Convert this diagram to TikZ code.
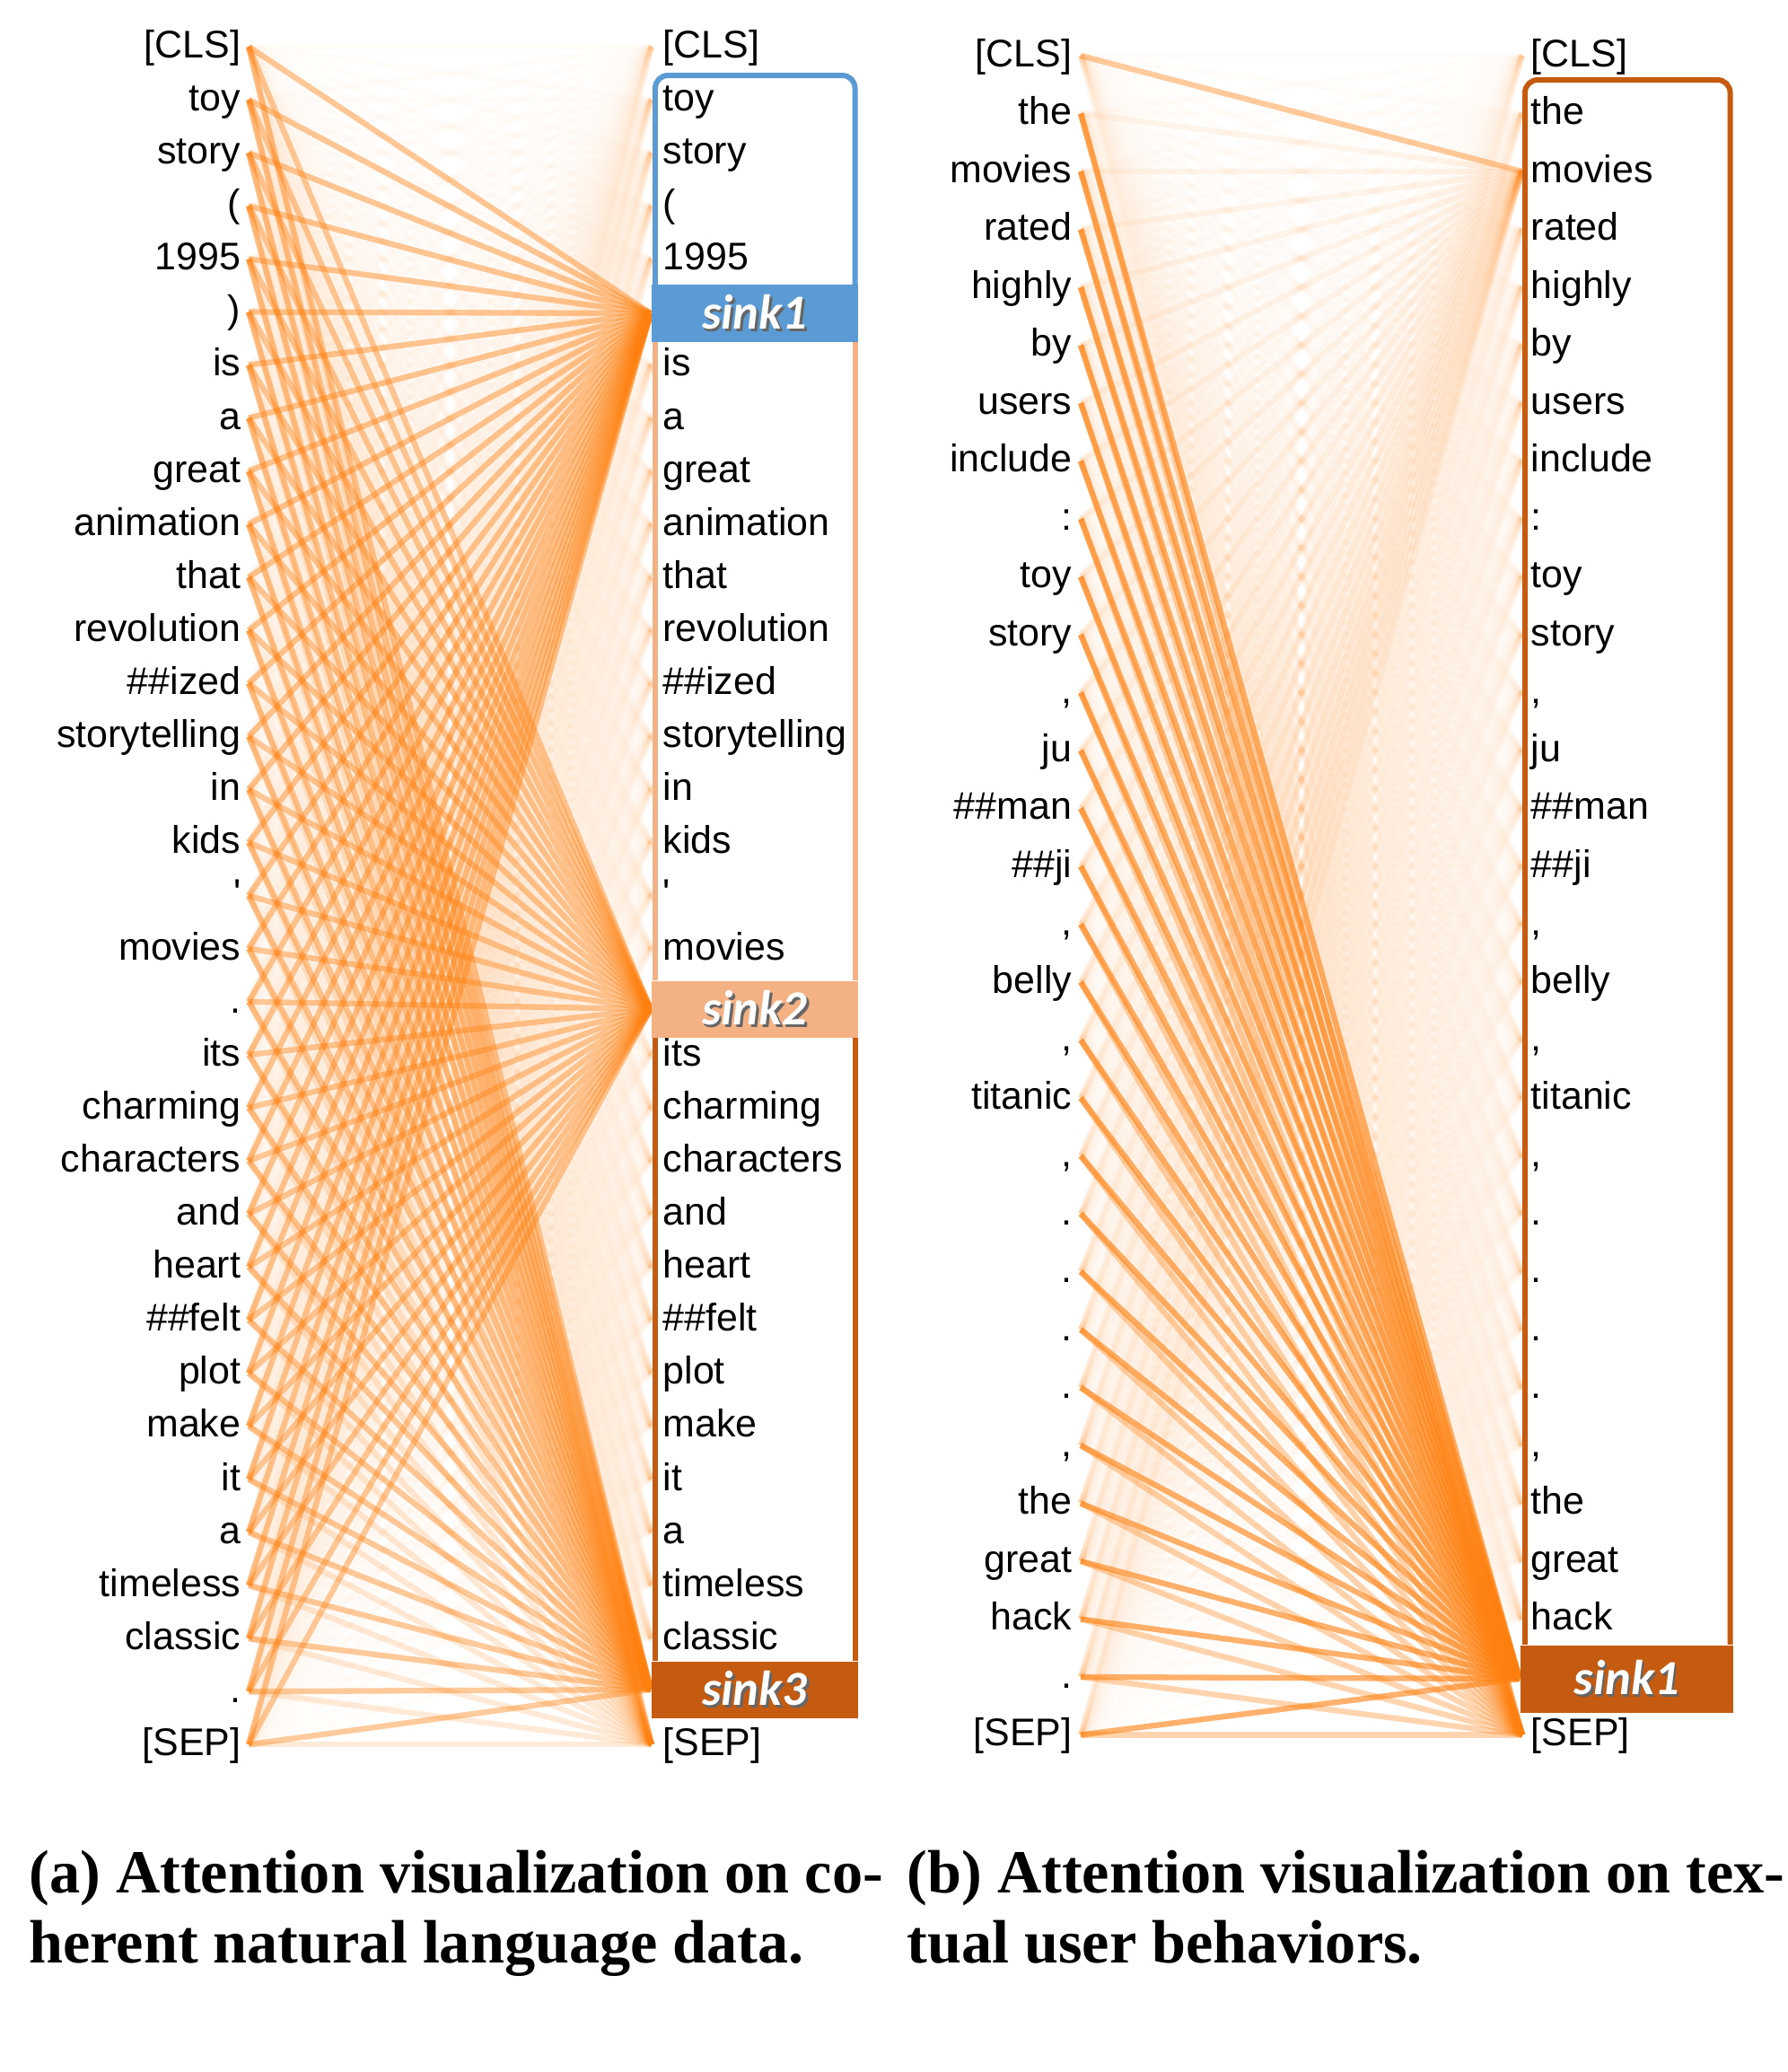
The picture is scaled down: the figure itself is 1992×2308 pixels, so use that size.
\documentclass[tikz,border=0pt]{standalone}
\usepackage{fontspec}
\setmainfont{Liberation Serif}
\newfontfamily\tokfont{Liberation Sans}
\newfontfamily\sinkfont{Carlito}
\usetikzlibrary{positioning}

\definecolor{attnorange}{RGB}{255,127,14}
\definecolor{sinkblue}{RGB}{91,155,213}
\definecolor{sinklight}{RGB}{244,177,131}
\definecolor{sinkdark}{RGB}{197,90,17}

\pgfdeclarelayer{background}
\pgfsetlayers{background,main}

\newcommand{\sinktxt}[1]{\makebox[0pt][l]{\hspace{0.7pt}\raisebox{-0.7pt}{\color{black!60}#1}}{\color{white}#1}}

\tikzset{
    tok/.style={font=\tokfont\fontsize{12.2}{14}\selectfont, text height=0.75em, text depth=0.05em, inner ysep=0pt},
    ltok/.style={tok, anchor=east, inner xsep=2.3pt},
    rtok/.style={tok, anchor=west, inner xsep=3.4pt},
    sinkbox/.style={anchor=west, inner sep=0pt, minimum width=2.3cm, minimum height=0.63cm,
        font=\sinkfont\bfseries\itshape\fontsize{15.5}{18}\selectfont},
    attnline/.style={draw=attnorange, line width=1.8pt},
    faint/.style={attnline, opacity=0.02},
    frame/.style={line width=1.7pt},
    captext/.style={anchor=base west, inner sep=0pt, font=\bfseries\fontsize{19.4}{22}\selectfont},
}

\begin{document}
\begin{tikzpicture}[x=0.01cm, y=-0.01cm]
    \useasboundingbox (0,0) rectangle (1992,2308);

    % (a) coherent sentence
    \foreach \t [count=\i from 0] in {{[CLS]},toy,story,{(},1995,{)},is,a,great,animation,that,revolution,\#\#ized,storytelling,in,kids,\textquotesingle,movies,.,its,charming,characters,and,heart,\#\#felt,plot,make,it,a,timeless,classic,.,{[SEP]}}
        \node[ltok] (al\i) at (277, {52+59.1*\i}) {\t};
    \foreach \i/\t in {0/{[CLS]},1/toy,2/story,3/{(},4/1995,6/is,7/a,8/great,9/animation,10/that,11/revolution,12/\#\#ized,13/storytelling,14/in,15/kids,16/\textquotesingle,17/movies,19/its,20/charming,21/characters,22/and,23/heart,24/\#\#felt,25/plot,26/make,27/it,28/a,29/timeless,30/classic,32/{[SEP]}}
        \node[rtok] (ar\i) at (726, {52+59.1*\i}) {\t};
    \node[sinkbox, fill=sinkblue] (ar5) at (725, 349) {\sinktxt{sink1}};
    \node[sinkbox, fill=sinklight] (ar18) at (725, 1124) {\sinktxt{sink2}};
    \node[sinkbox, fill=sinkdark] (ar31) at (725, 1882) {\sinktxt{sink3}};

    \draw[frame, sinkblue, rounded corners=4pt] ([xshift=0.05cm]ar5.north west) |- (840,84) -| ([xshift=-0.04cm]ar5.north east);
    \draw[frame, sinklight] ([xshift=0.05cm]ar5.south west) -- ([xshift=0.05cm]ar18.north west);
    \draw[frame, sinklight] ([xshift=-0.04cm]ar5.south east) -- ([xshift=-0.04cm]ar18.north east);
    \draw[frame, sinkdark] ([xshift=0.05cm]ar18.south west) -- ([xshift=0.05cm]ar31.north west);
    \draw[frame, sinkdark] ([xshift=-0.04cm]ar18.south east) -- ([xshift=-0.04cm]ar31.north east);

    % (b) textual user behaviors
    \foreach \t [count=\i from 0] in {{[CLS]},the,movies,rated,highly,by,users,include,:,toy,story,{,},ju,\#\#man,\#\#ji,{,},belly,{,},titanic,{,},.,.,.,.,{,},the,great,hack,.,{[SEP]}}
        \node[ltok, inner xsep=2.6pt] (bl\i) at (1204, {62+64.5*\i}) {\t};
    \foreach \i/\t in {0/{[CLS]},1/the,2/movies,3/rated,4/highly,5/by,6/users,7/include,8/:,9/toy,10/story,11/{,},12/ju,13/\#\#man,14/\#\#ji,15/{,},16/belly,17/{,},18/titanic,19/{,},20/.,21/.,22/.,23/.,24/{,},25/the,26/great,27/hack,29/{[SEP]}}
        \node[rtok, inner xsep=2.6pt] (br\i) at (1696, {62+64.5*\i}) {\t};
    \node[sinkbox, fill=sinkdark, minimum width=2.37cm, minimum height=0.75cm] (br28) at (1693, 1870) {\sinktxt{sink1}};

    \draw[frame, sinkdark, rounded corners=4pt] ([xshift=0.06cm]br28.north west) |- (1810,89) -| ([xshift=-0.04cm]br28.north east);

    \begin{pgfonlayer}{background}
        \foreach \i in {0,...,32}
            \foreach \j in {0,...,32}
                \draw[faint] (al\i.east) -- (ar\j.west);
        \foreach \i in {0,...,32} {
            \draw[attnline, opacity=0.42] (al\i.east) -- (ar5.west);
            \draw[attnline, opacity=0.4] (al\i.east) -- (ar18.west);
            \draw[attnline, opacity=0.4] (al\i.east) -- (ar31.west);
            \draw[attnline, opacity=0.15] (al\i.east) -- (ar32.west);
        }
        \foreach \i in {0,...,29}
            \foreach \j in {0,...,29}
                \draw[faint] (bl\i.east) -- (br\j.west);
        \foreach \i in {1,...,29} {
            \draw[attnline, opacity=0.6] (bl\i.east) -- (br28.west);
            \draw[attnline, opacity=0.32] (bl\i.east) -- (br29.west);
            \draw[attnline, opacity=0.06] (bl\i.east) -- (br2.west);
        }
        \draw[attnline, opacity=0.4] (bl0.east) -- (br2.west);
    \end{pgfonlayer}

    \node[captext] (capa1) at (32, 2108) {(a) Attention visualization on co-};
    \node[captext] (capa2) at (32, 2186) {herent natural language data.};
    \node[captext] (capb1) at (1010, 2108) {(b) Attention visualization on tex-};
    \node[captext] (capb2) at (1010, 2186) {tual user behaviors.};
\end{tikzpicture}
\end{document}
